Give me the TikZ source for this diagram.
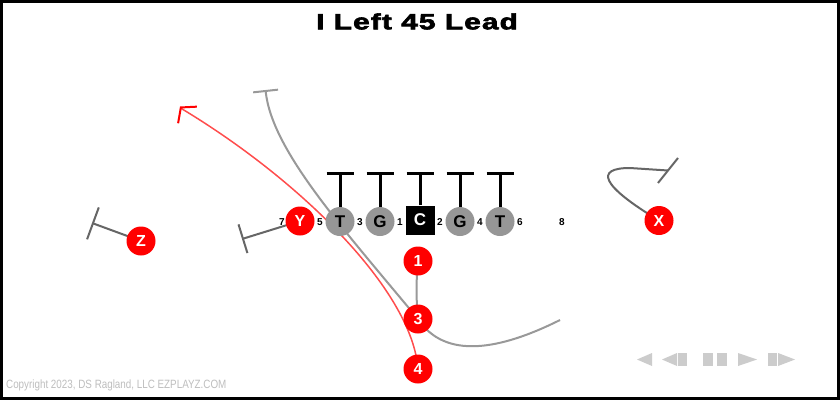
\documentclass[tikz,border=0pt]{standalone}
\usepackage{fontspec}
\setmainfont{Liberation Sans}
\newfontfamily\titlefont[LetterSpace=4,FakeBold=2.5]{Liberation Sans Bold}
\usetikzlibrary{arrows.meta,backgrounds}
\definecolor{pred}{RGB}{255,0,0}
\definecolor{routered}{RGB}{255,77,77}
\definecolor{lgray}{RGB}{153,153,153}
\definecolor{dgray}{RGB}{102,102,102}
\definecolor{ngray}{RGB}{150,150,150}
\definecolor{navgray}{RGB}{204,204,204}
\definecolor{copygray}{RGB}{190,190,190}
\begin{document}
\begin{tikzpicture}[x=1pt,y=-1pt,
  player/.style={circle,fill=pred,minimum size=29pt,inner sep=0pt,text=white,font=\fontsize{16}{16}\selectfont\bfseries},
  lineman/.style={circle,fill=ngray,minimum size=29pt,inner sep=0pt,text=black,font=\fontsize{17}{17}\selectfont\bfseries},
  centerman/.style={rectangle,fill=black,minimum size=29pt,inner sep=0pt,text=white,font=\fontsize{17}{17}\selectfont\bfseries},
  gaplabel/.style={inner sep=0pt,font=\fontsize{10}{10}\selectfont\bfseries},
  olblock/.style={line width=3pt,-{Bar[width=27pt]}},
  wrblock/.style={draw=dgray,line width=2pt},
  bkroute/.style={draw=lgray,line width=2pt},
  runroute/.style={draw=routered,line width=1.5pt},
  navbtn/.style={fill=navgray,draw=none}
]
% frame
\useasboundingbox (0,0) rectangle (840,400);
\draw[black,line width=3pt] (1.5,1.5) rectangle (838.5,398.5);

% title
\node[anchor=base,inner sep=0pt,font=\titlefont\fontsize{22}{22}\selectfont,xscale=1.35] (title) at (417,29.3) {I Left 45 Lead};

% offensive line
\node[lineman] (lt) at (340,221.5) {T};
\node[lineman] (lg) at (380,221.5) {G};
\node[centerman] (c) at (420,220) {C};
\node[lineman] (rg) at (460,221.5) {G};
\node[lineman] (rt) at (500,221.5) {T};

% skill players
\node[player] (y) at (300,221) {Y};
\node[player] (z) at (141,241) {Z};
\node[player] (x) at (659,220.5) {X};
\node[player] (p1) at (418,261) {1};
\node[player] (p3) at (418,319) {3};
\node[player] (p4) at (418,369) {4};

% hole numbers
\node[gaplabel] (h7) at (282,222) {7};
\node[gaplabel] (h5) at (320,222) {5};
\node[gaplabel] (h3) at (360,222) {3};
\node[gaplabel] (h1) at (400,222) {1};
\node[gaplabel] (h2) at (440,222) {2};
\node[gaplabel] (h4) at (480,222) {4};
\node[gaplabel] (h6) at (520,222) {6};
\node[gaplabel] (h8) at (562,222) {8};

% route end points
\coordinate (blt) at (340,172);
\coordinate (blg) at (380,172);
\coordinate (bc) at (420,172);
\coordinate (brg) at (460,172);
\coordinate (brt) at (500,172);
\coordinate (zend) at (92,223);
\coordinate (yend) at (242,239);
\coordinate (xend) at (668,170.5);
\coordinate (xbar1) at (658,183);
\coordinate (xbar2) at (678,158);
\coordinate (gstart) at (560,320);
\coordinate (gtop) at (265.5,90);
\coordinate (rtipin) at (182.3,109.1);
\coordinate (rtip) at (180,106.5);

\begin{scope}[on background layer]
  \fill[white] (0,0) rectangle (840,400);
  % line blocks
  \draw[olblock] (lt) -- (blt);
  \draw[olblock] (lg) -- (blg);
  \draw[olblock] (c) -- (bc);
  \draw[olblock] (rg) -- (brg);
  \draw[olblock] (rt) -- (brt);
  % receiver blocks
  \draw[wrblock,-{Bar[width=34pt]}] (z.center) -- (zend);
  \draw[wrblock,-{Bar[width=30pt]}] (y.center) -- (yend);
  \draw[wrblock] (x.center) .. controls (600,185) and (595,168) .. (630,168) -- (xend);
  \draw[wrblock] (xbar1) -- (xbar2);
  % backfield
  \draw[bkroute] (p1.center) to[bend right=5] (p3.center);
  \draw[bkroute,-{Bar[width=25pt]}] (gstart) .. controls (500,350) and (445,360) .. (p3.center)
     .. controls (340,225) and (272,150) .. (gtop);
  \draw[runroute,-{Straight Barb[length=10pt,width=25pt,color=pred,line width=2pt]}] (p4.center) .. controls (412,290) and (300,180) .. (rtipin) -- (rtip);
\end{scope}

% navigation buttons
\fill[navbtn] (652,353) -- (652,366) -- (637,359.5) -- cycle;
\fill[navbtn] (677,353) -- (677,366) -- (662,359.5) -- cycle;
\fill[navbtn] (678,353) rectangle (687,366);
\fill[navbtn] (703,353) rectangle (713,366);
\fill[navbtn] (717,353) rectangle (727,366);
\fill[navbtn] (738,353) -- (738,366) -- (757,359.5) -- cycle;
\fill[navbtn] (768,353) rectangle (777,366);
\fill[navbtn] (778,353) -- (778,366) -- (795,359.5) -- cycle;

% copyright
\node[anchor=base west,inner sep=0pt,text=copygray,font=\fontsize{12}{12}\selectfont,xscale=0.82] (copy) at (6,388.5) {Copyright 2023, DS Ragland, LLC EZPLAYZ.COM};
\end{tikzpicture}
\end{document}
